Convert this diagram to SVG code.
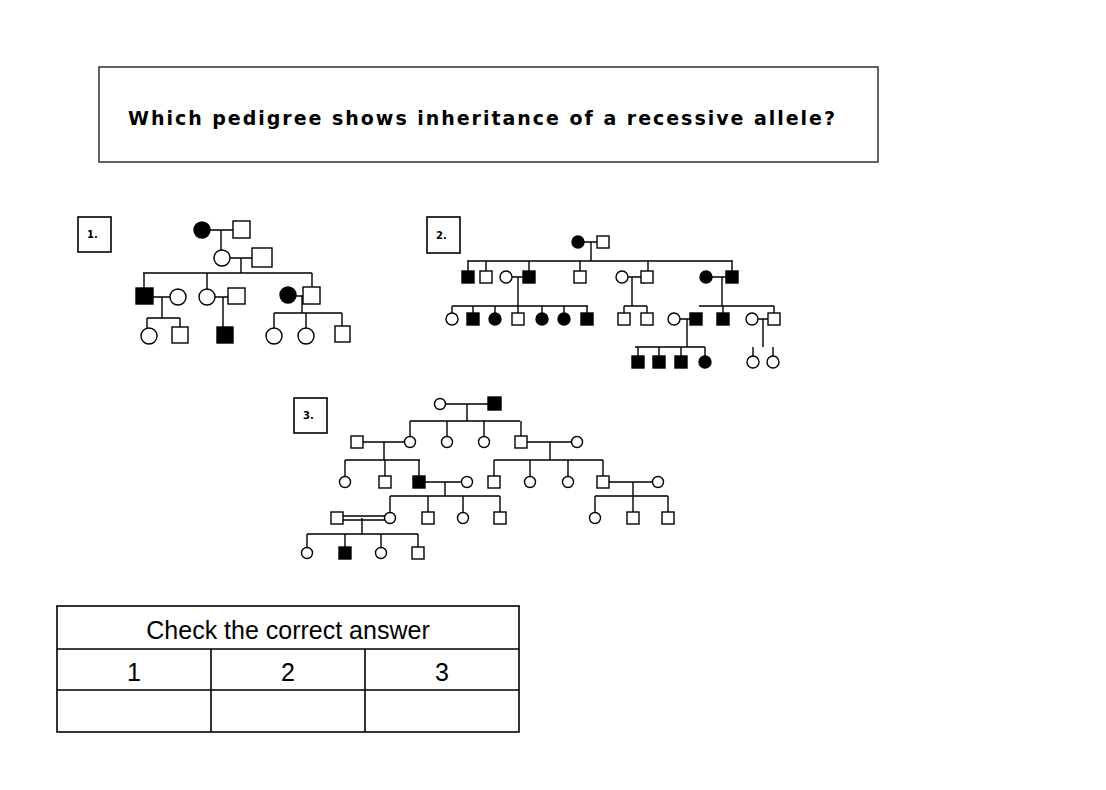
<svg xmlns="http://www.w3.org/2000/svg" width="1106" height="790" viewBox="0 0 1106 790">
<style>
.l{stroke:#000;stroke-width:1.4;fill:none}
.o{fill:#fff;stroke:#000;stroke-width:1.4}
.f{fill:#000;stroke:#000;stroke-width:1.4}
.lb{fill:#fff;stroke:#000;stroke-width:1.6}
.lt{font-family:"DejaVu Sans",sans-serif;font-weight:bold;font-size:10px}
.t{font-family:"Liberation Sans",Arial,sans-serif;font-size:25px}
</style>
<rect width="1106" height="790" fill="#fff"/>
<g id="title"><rect x="99" y="67" width="779" height="95" fill="#fff" stroke="#333" stroke-width="1.5"/>
<text x="128" y="125" textLength="707" font-family="DejaVu Sans,sans-serif" font-weight="bold" font-size="19">Which pedigree shows inheritance of a recessive allele?</text></g>

<g id="connectors">
<!-- P1 -->
<path class="l" d="M210 230H233M221 230V250M230 258H252M241 258V273M143 273H312M144 273V288M207 273V289M312 273V287M153 297H170M215 297H228M296 296H303M162 297V318M147 318H180M147 318V329M180 318V327M223 297V327M302 296V313M274 313H342M274 313V328M306 313V328M342 313V326"/>
<!-- P2 -->
<path class="l" d="M584 242H597M591 242V261M467 261H733M468 261V271M486 261V271M529 261V271M580 261V271M648 261V271M732 261V271M512 277H523M628 277H641M712 277H726M518 277V306M632 277V306M722 277V306M452 306H588M452 306V313M473 306V313M495 306V313M518 306V313M542 306V313M564 306V313M587 306V313M624 306H647M624 306V313M647 306V313M699 306H774M723 306V313M774 306V313M680 319H690M758 319H768M687 319V347M763 319V347M635 347H705M638 347V356M659 347V356M681 347V356M705 347V356M753 347V356M773 347V356"/>
<!-- P3 -->
<path class="l" d="M445 404H488M467 404V421M410 421H520M410 421V437M447 421V437M484 421V437M521 421V436M363 442H405M527 442H572M384 442V460M550 442V460M345 460H420M345 460V477M385 460V476M419 460V476M494 460H603M494 460V476M530 460V477M568 460V477M603 460V476M425 482H462M609 482H653M445 482V496M633 482V496M390 496H500M390 496V513M428 496V512M463 496V513M500 496V512M595 496H668M595 496V513M633 496V512M668 496V512M343 516H385M343 520H385M362 518V534M307 534H418M307 534V548M345 534V547M381 534V548M418 534V547"/>
</g>

<g id="pedigree1">
<rect class="lb" x="78" y="217" width="33" height="35"/><text class="lt" x="87" y="238">1.</text>
<circle class="f" cx="202" cy="230" r="8"/><rect class="o" x="233" y="221" width="17" height="17"/>
<circle class="o" cx="222" cy="258" r="8"/><rect class="o" x="252" y="248" width="20" height="19"/>
<rect class="f" x="136" y="288" width="17" height="16"/><circle class="o" cx="178" cy="297" r="8"/>
<circle class="o" cx="207" cy="297" r="8"/><rect class="o" x="228" y="288" width="17" height="16"/>
<circle class="f" cx="288" cy="295" r="8"/><rect class="o" x="303" y="287" width="17" height="17"/>
<circle class="o" cx="149" cy="336" r="8"/><rect class="o" x="172" y="327" width="16" height="16"/>
<rect class="f" x="217" y="327" width="16" height="16"/>
<circle class="o" cx="274" cy="336" r="8"/><circle class="o" cx="306" cy="336" r="8"/><rect class="o" x="335" y="326" width="15" height="16"/>
</g>

<g id="pedigree2">
<rect class="lb" x="427" y="217" width="33" height="36"/><text class="lt" x="436" y="239">2.</text>
<circle class="f" cx="578" cy="242" r="6"/><rect class="o" x="597" y="236" width="12" height="12"/>
<rect class="f" x="462" y="271" width="12" height="12"/><rect class="o" x="480" y="271" width="12" height="12"/>
<circle class="o" cx="506" cy="277" r="6"/><rect class="f" x="523" y="271" width="12" height="12"/>
<rect class="o" x="574" y="271" width="12" height="12"/>
<circle class="o" cx="622" cy="277" r="6"/><rect class="o" x="641" y="271" width="12" height="12"/>
<circle class="f" cx="706" cy="277" r="6"/><rect class="f" x="726" y="271" width="12" height="12"/>
<circle class="o" cx="452" cy="319" r="6"/><rect class="f" x="467" y="313" width="12" height="12"/>
<circle class="f" cx="495" cy="319" r="6"/><rect class="o" x="512" y="313" width="12" height="12"/>
<circle class="f" cx="542" cy="319" r="6"/><circle class="f" cx="564" cy="319" r="6"/>
<rect class="f" x="581" y="313" width="12" height="12"/>
<rect class="o" x="618" y="313" width="12" height="12"/><rect class="o" x="641" y="313" width="12" height="12"/>
<circle class="o" cx="674" cy="319" r="6"/><rect class="f" x="690" y="313" width="12" height="12"/>
<rect class="f" x="717" y="313" width="12" height="12"/>
<circle class="o" cx="752" cy="319" r="6"/><rect class="o" x="768" y="313" width="12" height="12"/>
<rect class="f" x="632" y="356" width="12" height="12"/><rect class="f" x="653" y="356" width="12" height="12"/>
<rect class="f" x="675" y="356" width="12" height="12"/><circle class="f" cx="705" cy="362" r="6"/>
<circle class="o" cx="753" cy="362" r="6"/><circle class="o" cx="773" cy="362" r="6"/>
</g>

<g id="pedigree3">
<rect class="lb" x="294" y="398" width="33" height="35"/><text class="lt" x="303" y="419">3.</text>
<circle class="o" cx="440" cy="404" r="5.5"/><rect class="f" x="488" y="397" width="13" height="13"/>
<rect class="o" x="351" y="436" width="12" height="12"/><circle class="o" cx="410" cy="442" r="5.5"/>
<circle class="o" cx="447" cy="442" r="5.5"/><circle class="o" cx="484" cy="442" r="5.5"/>
<rect class="o" x="515" y="436" width="12" height="12"/><circle class="o" cx="577" cy="442" r="5.5"/>
<circle class="o" cx="345" cy="482" r="5.5"/><rect class="o" x="379" y="476" width="12" height="12"/>
<rect class="f" x="413" y="476" width="12" height="12"/><circle class="o" cx="467" cy="482" r="5.5"/>
<rect class="o" x="488" y="476" width="12" height="12"/><circle class="o" cx="530" cy="482" r="5.5"/>
<circle class="o" cx="568" cy="482" r="5.5"/><rect class="o" x="597" y="476" width="12" height="12"/>
<circle class="o" cx="658" cy="482" r="5.5"/>
<rect class="o" x="331" y="512" width="12" height="12"/><circle class="o" cx="390" cy="518" r="5.5"/>
<rect class="o" x="422" y="512" width="12" height="12"/><circle class="o" cx="463" cy="518" r="5.5"/>
<rect class="o" x="494" y="512" width="12" height="12"/>
<circle class="o" cx="595" cy="518" r="5.5"/><rect class="o" x="627" y="512" width="12" height="12"/>
<rect class="o" x="662" y="512" width="12" height="12"/>
<circle class="o" cx="307" cy="553" r="5.5"/><rect class="f" x="339" y="547" width="12" height="12"/>
<circle class="o" cx="381" cy="553" r="5.5"/><rect class="o" x="412" y="547" width="12" height="12"/>
</g>

<g id="table" stroke="#000" stroke-width="1.6">
<rect x="57" y="606" width="462" height="126" fill="#fff"/>
<path d="M57 649H519M57 690H519M211 649V732M365 649V732" fill="none"/>
<g stroke="none" class="t" text-anchor="middle">
<text x="288" y="639">Check the correct answer</text>
<text x="134" y="681">1</text><text x="288" y="681">2</text><text x="442" y="681">3</text>
</g></g>
</svg>
